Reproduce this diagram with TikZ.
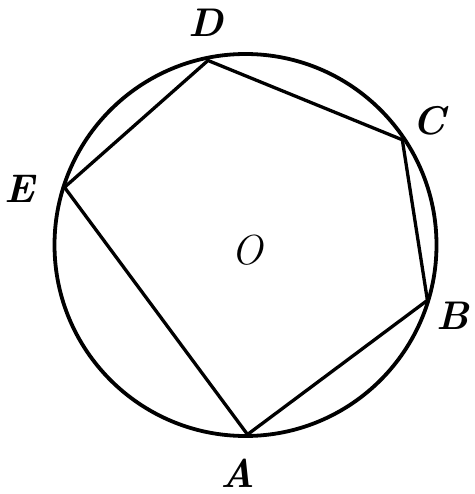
\documentclass[tikz,border=0pt]{standalone}
\usepackage{fontspec}
\setmainfont{Latin Modern Roman}
\begin{document}
\begin{tikzpicture}[x=1pt,y=-1pt,
  edge/.style={line width=3.3pt,line join=round,line cap=round},
  lbl/.style={font=\fontsize{40pt}{40pt}\selectfont\bfseries\itshape,inner sep=0pt},
  ctr/.style={font=\fontsize{42pt}{42pt}\selectfont\itshape,inner sep=0pt}]
\useasboundingbox (0,0) rectangle (474,494);
\coordinate (O) at (245.5,245);
\draw[line width=3.8pt] (O) circle (191);
\coordinate (A) at (247.5,434.5);
\coordinate (B) at (427.4,300.3);
\coordinate (C) at (402.3,139.8);
\coordinate (D) at (208,60.5);
\coordinate (E) at (64.5,187.3);
\draw[edge] (A) -- (B) -- (C) -- (D) -- (E) -- cycle;
\node[lbl] (lA) at (238,473) {A};
\node[lbl] (lB) at (453,316) {B};
\node[lbl] (lC) at (429,121) {C};
\node[lbl] (lD) at (206,23) {D};
\node[lbl] (lE) at (20,189) {E};
\node[ctr] (lO) at (247,250) {O};
\end{tikzpicture}
\end{document}
